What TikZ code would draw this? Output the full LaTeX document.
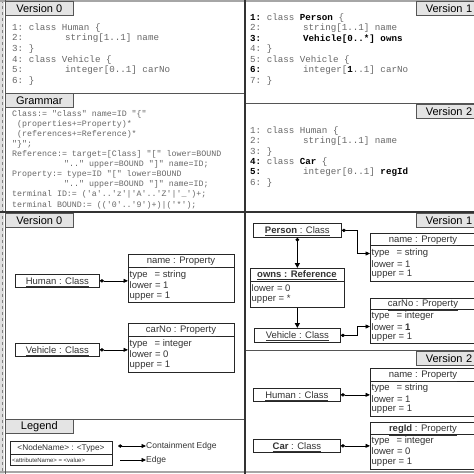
\documentclass[tikz,border=0pt]{standalone}
\usepackage{fontspec}
\setmainfont{Liberation Sans}
\setmonofont{Liberation Mono}
\usetikzlibrary{arrows.meta}
\definecolor{tabgray}{HTML}{E4E4E4}
\definecolor{codegray}{HTML}{686868}
\definecolor{linegray}{HTML}{555555}
\newcommand\kwb[1]{{\bfseries\color{black}#1}}
\newcommand\codeind[1]{\makebox[53pt][l]{#1}}
\begin{document}
\begin{tikzpicture}[x=1pt,y=-1pt,
  lefttab/.style={draw=linegray, fill=tabgray, line width=0.6pt, font=\fontsize{11}{12}\selectfont,
    inner sep=0pt, minimum height=14pt, minimum width=68pt, anchor=north west},
  righttab/.style={draw=linegray, fill=tabgray, line width=0.6pt, font=\fontsize{11}{12}\selectfont,
    inner xsep=2pt, inner ysep=0pt, text width=54pt, align=right, minimum height=14pt, anchor=north west},
  code/.style={anchor=west, inner sep=0pt, text=codegray, font=\ttfamily\fontsize{9.2}{10}\selectfont},
  gram/.style={anchor=west, inner sep=0pt, text=codegray, font=\ttfamily\fontsize{8.3}{9}\selectfont},
  cls/.style={draw=black!85, line width=0.7pt, inner sep=0pt, anchor=north west, text depth=0pt,
    font=\fontsize{9.5}{11}\selectfont, text=black!80},
  prop/.style={draw=black!85, line width=0.7pt, inner sep=0pt, anchor=north west},
  phead/.style={inner sep=0pt, text depth=0pt, font=\fontsize{9.5}{11}\selectfont, text=black!80},
  attr/.style={anchor=west, inner sep=0pt, font=\fontsize{9.5}{11}\selectfont, text=black!80},
  contain/.style={line width=0.7pt, {Diamond[length=4.5pt,width=3.5pt]}-{Triangle[length=4.5pt,width=4pt]}},
  refedge/.style={line width=0.7pt, -{Triangle[length=4.5pt,width=4pt]}},
  frameline/.style={draw=black!80, line width=1.5pt},
  sepline/.style={draw=linegray, line width=1pt}
]
\useasboundingbox (0,0) rectangle (474,474);
\fill[white] (0,0) rectangle (474,474);
% frame
\fill[gray!25] (0,0) rectangle (4,474);
\draw[gray, dashed, line width=0.6pt] (2,0) -- (2,474);
\draw[gray!70, line width=2pt] (0,1) -- (474,1);
\draw[gray!70, line width=2pt] (0,472) -- (474,472);
\draw[sepline] (5,0) -- (5,474);
\draw[sepline] (5,93) -- (245,93);
\draw[sepline] (245,103) -- (474,103);
\draw[sepline] (5,419) -- (245,419);
\draw[sepline] (245,350) -- (474,350);
\draw[frameline] (245,0) -- (245,474);
\draw[frameline] (0,212) -- (474,212);

% tabs
\node[lefttab] (tabA) at (5,1) {Version 0};
\node[lefttab] (tabB) at (5,93) {Grammar};
\node[lefttab] (tabC) at (5,213) {Version 0};
\node[lefttab] (tabD) at (5,419) {Legend};
\node[righttab] (tabE) at (416,1) {Version 1};
\node[righttab] (tabF) at (416,104) {Version 2};
\node[righttab] (tabG) at (416,213) {Version 1};
\node[righttab] (tabH) at (416,351) {Version 2};

% code version 0
\node[code] (ca1) at (12,28) {1: class Human \{};
\node[code] (ca2) at (12,38.6) {\codeind{2:}string[1..1] name};
\node[code] (ca3) at (12,49.2) {3: \}};
\node[code] (ca4) at (12,59.8) {4: class Vehicle \{};
\node[code] (ca5) at (12,70.4) {\codeind{5:}integer[0..1] carNo};
\node[code] (ca6) at (12,81) {6: \}};

% grammar
\node[gram] (g1) at (12,114) {Class:= "class" name=ID "\{"};
\node[gram] (g2) at (12,124.1) {\hspace*{5pt}(properties+=Property)*};
\node[gram] (g3) at (12,134.2) {\hspace*{5pt}(references+=Reference)*};
\node[gram] (g4) at (12,144.3) {"\}";};
\node[gram] (g5) at (12,154.4) {Reference:= target=[Class] "[" lower=BOUND};
\node[gram] (g6) at (12,164.5) {\hspace*{52pt}".." upper=BOUND "]" name=ID;};
\node[gram] (g7) at (12,174.6) {Property:= type=ID "[" lower=BOUND};
\node[gram] (g8) at (12,184.7) {\hspace*{52pt}".." upper=BOUND "]" name=ID;};
\node[gram] (g9) at (12,194.8) {terminal ID:= ('a'..'z'|'A'..'Z'|'\_')+;};
\node[gram] (g10) at (12,205) {terminal BOUND:= (('0'..'9')+)|('*');};

% code version 1
\node[code] (cb1) at (250,18) {\kwb{1:} class \kwb{Person} \{};
\node[code] (cb2) at (250,28.5) {\codeind{2:}string[1..1] name};
\node[code] (cb3) at (250,39) {\kwb{\codeind{3:}Vehicle[0..*] owns}};
\node[code] (cb4) at (250,49.5) {4: \}};
\node[code] (cb5) at (250,60) {5: class Vehicle \{};
\node[code] (cb6) at (250,70.5) {\codeind{\kwb{6:}}integer[\kwb{1}..1] carNo};
\node[code] (cb7) at (250,81) {7: \}};

% code version 2
\node[code] (cc1) at (250,131) {1: class Human \{};
\node[code] (cc2) at (250,141.4) {\codeind{2:}string[1..1] name};
\node[code] (cc3) at (250,151.8) {3: \}};
\node[code] (cc4) at (250,162.2) {\kwb{4:} class \kwb{Car} \{};
\node[code] (cc5) at (250,172.6) {\codeind{\kwb{5:}}integer[0..1] \kwb{regId}};
\node[code] (cc6) at (250,183) {6: \}};

% ---------- bottom left: Version 0 model
\node[cls, minimum width=84pt, minimum height=13pt] (h0) at (15,274) {\underline{Human : Class}};
\node[prop, minimum width=106pt, minimum height=48pt] (n0) at (128,254) {};
\draw[line width=0.7pt, black!85] (128,267) -- (234,267);
\node[phead] (n0h) at (181,260.5) {\underline{name : Property}};
\node[attr] (n0a) at (129.5,275) {type\hspace{7pt}= string};
\node[attr] (n0b) at (129.5,285.5) {lower = 1};
\node[attr] (n0c) at (129.5,296) {upper = 1};
\draw[contain] (h0.east) -- (h0.east -| n0.west);

\node[cls, minimum width=84pt, minimum height=13pt] (v0) at (15,343) {\underline{Vehicle : Class}};
\node[prop, minimum width=106pt, minimum height=49pt] (k0) at (128,323) {};
\draw[line width=0.7pt, black!85] (128,336) -- (234,336);
\node[phead] (k0h) at (181,329.5) {\underline{carNo : Property}};
\node[attr] (k0a) at (129.5,344) {type\hspace{7pt}= integer};
\node[attr] (k0b) at (129.5,354.5) {lower = 0};
\node[attr] (k0c) at (129.5,365) {upper = 1};
\draw[contain] (v0.east) -- (v0.east -| k0.west);

% legend
\node[prop, minimum width=102pt, minimum height=24pt] (lg) at (10,441) {};
\draw[line width=0.7pt, black!85] (10,454) -- (112,454);
\node[phead, font=\fontsize{8.3}{9}\selectfont] (lgh) at (61,447.5) {<NodeName> : <Type>};
\node[attr, font=\fontsize{6}{7}\selectfont] (lga) at (12,460) {<attributeName> = <value>};
\coordinate (lcs) at (118,446);
\coordinate (les) at (120,460);
\node[attr, font=\fontsize{8.5}{10}\selectfont] (lgc) at (146,446) {Containment Edge};
\node[attr, font=\fontsize{8.5}{10}\selectfont] (lge) at (146,460) {Edge};
\draw[contain] (lcs) -- (lgc.west);
\draw[refedge] (les) -- (lge.west);

% ---------- bottom right: Version 1 model
\node[cls, minimum width=88pt, minimum height=14pt] (p1) at (253,223) {\underline{\textbf{Person} : Class}};
\node[prop, minimum width=106pt, minimum height=48pt] (n1) at (370,233) {};
\draw[line width=0.7pt, black!85] (370,245) -- (476,245);
\node[phead] (n1h) at (423,239) {\underline{name : Property}};
\node[attr] (n1a) at (371.5,253.5) {type\hspace{7pt}= string};
\node[attr] (n1b) at (371.5,264) {lower = 1};
\node[attr] (n1c) at (371.5,274.5) {upper = 1};
\coordinate (n1in) at (370,253.5);
\draw[contain] (p1.east) -- ++(16,0) |- (n1in);

\node[prop, minimum width=94pt, minimum height=39pt] (o1) at (250,268) {};
\draw[line width=0.7pt, black!85] (250,281) -- (344,281);
\node[phead] (o1h) at (297,274.5) {\underline{\textbf{owns : Reference}}};
\node[attr] (o1a) at (251.5,288.5) {lower = 0};
\node[attr] (o1b) at (251.5,299) {upper = *};

\node[cls, minimum width=86pt, minimum height=14pt] (ve1) at (254,328) {\underline{Vehicle : Class}};
\node[prop, minimum width=106pt, minimum height=45pt] (k1) at (370,298) {};
\draw[line width=0.7pt, black!85] (370,309) -- (476,309);
\node[phead] (k1h) at (423,303.5) {\underline{carNo : Property}};
\node[attr] (k1a) at (371.5,316.5) {type\hspace{7pt}= integer};
\node[attr] (k1b) at (371.5,327) {lower = \textbf{1}};
\node[attr] (k1c) at (371.5,337.5) {upper = 1};
\coordinate (k1in) at (370,326.5);
\draw[contain] (ve1.east) -- ++(17,0) |- (k1in);

\draw[line width=1.4pt, {Diamond[length=4pt,width=4pt]}-{Triangle[length=5pt,width=5pt]}] (p1.south) -- (o1.north);
\draw[line width=1.4pt, -{Triangle[length=5pt,width=5pt]}] (o1.south) -- (ve1.north);

% ---------- bottom right: Version 2 model
\node[cls, minimum width=87pt, minimum height=13pt] (h2) at (253,388) {\underline{Human : Class}};
\node[prop, minimum width=106pt, minimum height=48pt] (n2) at (370,368) {};
\draw[line width=0.7pt, black!85] (370,381) -- (476,381);
\node[phead] (n2h) at (423,374.5) {\underline{name : Property}};
\node[attr] (n2a) at (371.5,388) {type\hspace{7pt}= string};
\node[attr] (n2b) at (371.5,399) {lower = 1};
\node[attr] (n2c) at (371.5,409.5) {upper = 1};
\draw[contain] (h2.east) -- (h2.east -| n2.west);

\node[cls, minimum width=87pt, minimum height=13pt] (c2) at (253,439) {\underline{\textbf{Car} : Class}};
\node[prop, minimum width=106pt, minimum height=47pt] (r2) at (370,422) {};
\draw[line width=0.7pt, black!85] (370,434) -- (476,434);
\node[phead] (r2h) at (423,428) {\underline{\textbf{regId} : Property}};
\node[attr] (r2a) at (371.5,441) {type\hspace{7pt}= integer};
\node[attr] (r2b) at (371.5,451.5) {lower = 0};
\node[attr] (r2c) at (371.5,462) {upper = 1};
\draw[contain] (c2.east) -- (c2.east -| r2.west);
\end{tikzpicture}
\end{document}
